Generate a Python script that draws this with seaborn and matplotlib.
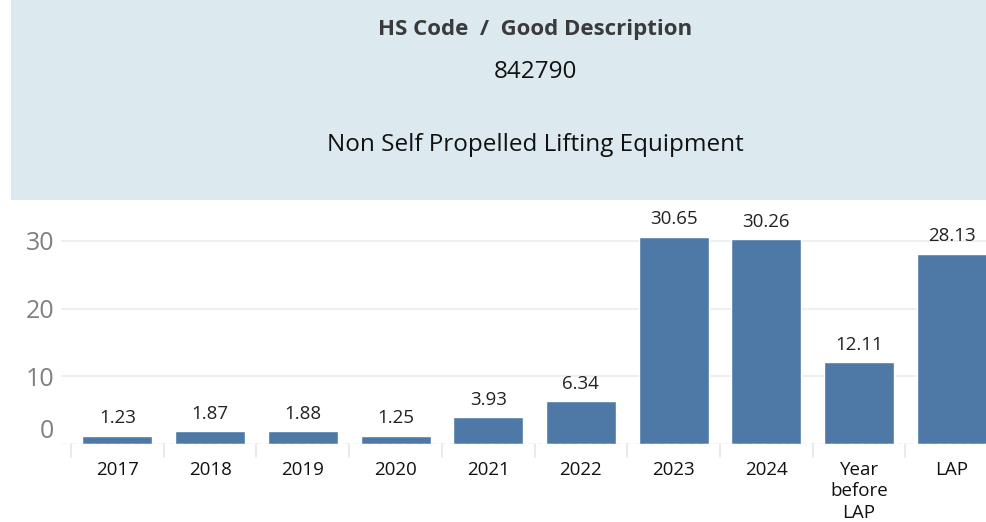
import pandas as pd
import numpy as np
import matplotlib.pyplot as plt
import seaborn as sns
from matplotlib.patches import Rectangle
from matplotlib.transforms import offset_copy

categories = ["2017", "2018", "2019", "2020", "2021", "2022", "2023", "2024", "Year\nbefore\nLAP", "LAP"]
values = [1.23, 1.87, 1.88, 1.25, 3.93, 6.34, 30.65, 30.26, 12.11, 28.13]
y_ticks = [0, 10, 20, 30]

title_line = "HS Code  /  Good Description"
hs_code = "842790"
description = "Non Self Propelled Lifting Equipment"

df = pd.DataFrame({"period": categories, "value": values})

sns.set_style("white")
plt.rcParams["font.family"] = ["Open Sans", "DejaVu Sans"]

fig = plt.figure(figsize=(9.87, 5.22), dpi=100)

# header box
fig.patches.append(Rectangle((11 / 987, 1 - 200 / 522), 1 - 11 / 987, 200 / 522,
                             transform=fig.transFigure, facecolor="#dce9ef",
                             edgecolor="none", zorder=0))
cx = 535 / 987
fig.text(cx, 1 - 30 / 522, title_line, ha="center", va="center", fontsize=16,
         fontweight="bold", color="#3a3a3a")
fig.text(cx, 1 - 72 / 522, hs_code, ha="center", va="center", fontsize=17.5, color="#111111")
fig.text(cx, 1 - 145 / 522, description, ha="center", va="center", fontsize=17.5, color="#111111")

ax = fig.add_axes([61 / 987, 1 - 444 / 522, 1 - 61 / 987, (444 - 210) / 522])
sns.barplot(data=df, x="period", y="value", color="#4e79a7", saturation=1,
            width=0.755, ax=ax)

ax.set_xlim(-0.608, 9.38)
ax.set_ylim(0, 34.58)
ax.set_yticks(y_ticks)
ax.set_yticklabels([str(t) for t in y_ticks], fontsize=18, color="#808080")
ax.tick_params(axis="y", length=0, pad=5)
ax.tick_params(axis="x", length=0, pad=12)
for lbl in ax.get_xticklabels():
    lbl.set_fontsize(13.5)
    lbl.set_color("#111111")
    lbl.set_fontweight("medium")
    lbl.set_va("top")
    lbl.set_linespacing(1.25)
ax.set_xlabel("")
ax.set_ylabel("")

# Tableau shifts the 0 label up off the axis line
zero_lbl = ax.get_yticklabels()[0]
zero_lbl.set_transform(offset_copy(zero_lbl.get_transform(), fig=fig, x=0, y=11, units="points"))

for t in y_ticks[1:]:
    ax.axhline(t, color="#ececec", lw=1.2, zorder=0)
ax.axhline(0, color="#c8c8c8", lw=1, ls=(0, (4, 3)), zorder=3)

for s in ax.spines.values():
    s.set_visible(False)

# column separators below baseline
for i in range(len(categories) + 1):
    ax.plot([i - 0.5, i - 0.5], [0, -0.055], transform=ax.get_xaxis_transform(),
            color="#e6e6e6", lw=1.2, clip_on=False)

for bar, v in zip(ax.patches, values):
    ax.annotate(f"{v:.2f}", (bar.get_x() + bar.get_width() / 2, v),
                xytext=(0, 6), textcoords="offset points", ha="center", va="bottom",
                fontsize=13.5, color="#222222")

fig.savefig("out.png", dpi=100)
